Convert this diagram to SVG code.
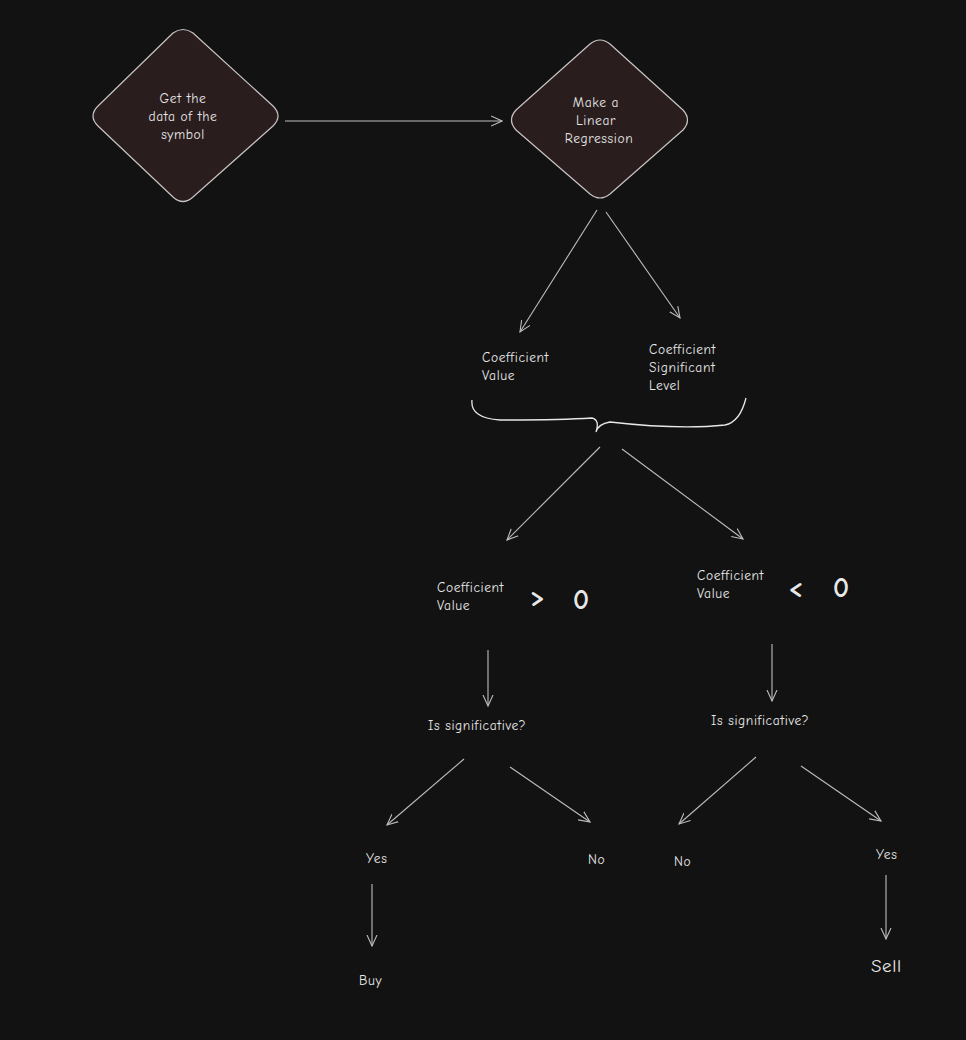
<svg xmlns="http://www.w3.org/2000/svg" width="966" height="1040" viewBox="0 0 966 1040">
<defs>
<style>
.t{font-family:"Comic Neue","Liberation Sans",sans-serif;fill:#e8e8e8;font-size:13.5px;letter-spacing:0.6px}
.b{font-size:28px;font-weight:bold}
.d{fill:#2a1d1e;stroke:#c9c4c4;stroke-width:1.2;stroke-linejoin:round}
.c line,.c path{stroke:#bdbdbd;stroke-width:1.1;fill:none}
</style>
<marker id="a" viewBox="0 0 12 12" refX="11" refY="6" markerWidth="12" markerHeight="12" markerUnits="userSpaceOnUse" orient="auto"><path d="M0,1 L11,6 L0,11" fill="none" stroke="#bdbdbd" stroke-width="1.1"/></marker>
</defs>
<rect width="966" height="1040" fill="#121212"/>
<g id="n1"><path class="d" d="M98,106 L173,33 Q183,26 193,33 L273,106 Q283,116 273,126 L193,197 Q183,206 173,197 L98,126 Q88,116 98,106Z"/>
<text class="t" text-anchor="middle"><tspan x="183" y="103">Get the</tspan><tspan x="183" y="121">data of the</tspan><tspan x="183" y="139">symbol</tspan></text></g>
<g id="n2"><path class="d" d="M516,110 L590,44 Q600,36 610,44 L683,110 Q692,120 683,130 L610,194 Q600,202 590,194 L516,130 Q507,120 516,110Z"/>
<text class="t" text-anchor="middle"><tspan x="596" y="107">Make a</tspan><tspan x="596" y="125">Linear</tspan><tspan x="599" y="143">Regression</tspan></text></g>
<g id="n3"><text class="t"><tspan x="482" y="362">Coefficient</tspan><tspan x="482" y="380">Value</tspan></text></g>
<g id="n4"><text class="t"><tspan x="649" y="354">Coefficient</tspan><tspan x="649" y="372">Significant</tspan><tspan x="649" y="390">Level</tspan></text></g>
<g id="brace"><path d="M472,400 Q470,418 500,420 Q560,420 592,418 Q600,420 596,432 Q598,424 610,422 Q680,430 725,425 Q740,422 746,398" stroke="#e8e8e8" stroke-width="1.3" fill="none"/></g>
<g id="n5"><text class="t"><tspan x="437" y="592">Coefficient</tspan><tspan x="437" y="610">Value</tspan></text><text class="t b" x="530" y="606">&gt;</text><text class="t b" x="573" y="609">0</text></g>
<g id="n6"><text class="t"><tspan x="697" y="580">Coefficient</tspan><tspan x="697" y="598">Value</tspan></text><text class="t b" x="788" y="597">&lt;</text><text class="t b" x="833" y="597">0</text></g>
<g id="n7"><text class="t" x="428" y="730">Is significative?</text></g>
<g id="n8"><text class="t" x="711" y="725">Is significative?</text></g>
<g id="n9"><text class="t" x="366" y="863">Yes</text></g>
<g id="n10"><text class="t" x="588" y="864">No</text></g>
<g id="n11"><text class="t" x="674" y="866">No</text></g>
<g id="n12"><text class="t" x="876" y="859">Yes</text></g>
<g id="n13"><text class="t" x="359" y="985">Buy</text></g>
<g id="n14"><text class="t" x="871" y="972" style="font-size:19px">Sell</text></g>
<g class="c">
<line x1="285" y1="121" x2="502" y2="121" marker-end="url(#a)"/>
<line x1="597" y1="210" x2="520" y2="332" marker-end="url(#a)"/>
<line x1="606" y1="212" x2="680" y2="318" marker-end="url(#a)"/>
<line x1="600" y1="447" x2="507" y2="540" marker-end="url(#a)"/>
<line x1="622" y1="449" x2="743" y2="539" marker-end="url(#a)"/>
<line x1="488" y1="650" x2="488" y2="706" marker-end="url(#a)"/>
<line x1="772" y1="644" x2="772" y2="701" marker-end="url(#a)"/>
<line x1="464" y1="759" x2="387" y2="825" marker-end="url(#a)"/>
<line x1="510" y1="767" x2="590" y2="822" marker-end="url(#a)"/>
<line x1="756" y1="757" x2="679" y2="824" marker-end="url(#a)"/>
<line x1="801" y1="766" x2="881" y2="821" marker-end="url(#a)"/>
<line x1="372" y1="884" x2="372" y2="946" marker-end="url(#a)"/>
<line x1="886" y1="875" x2="886" y2="939" marker-end="url(#a)"/>
</g>
</svg>
